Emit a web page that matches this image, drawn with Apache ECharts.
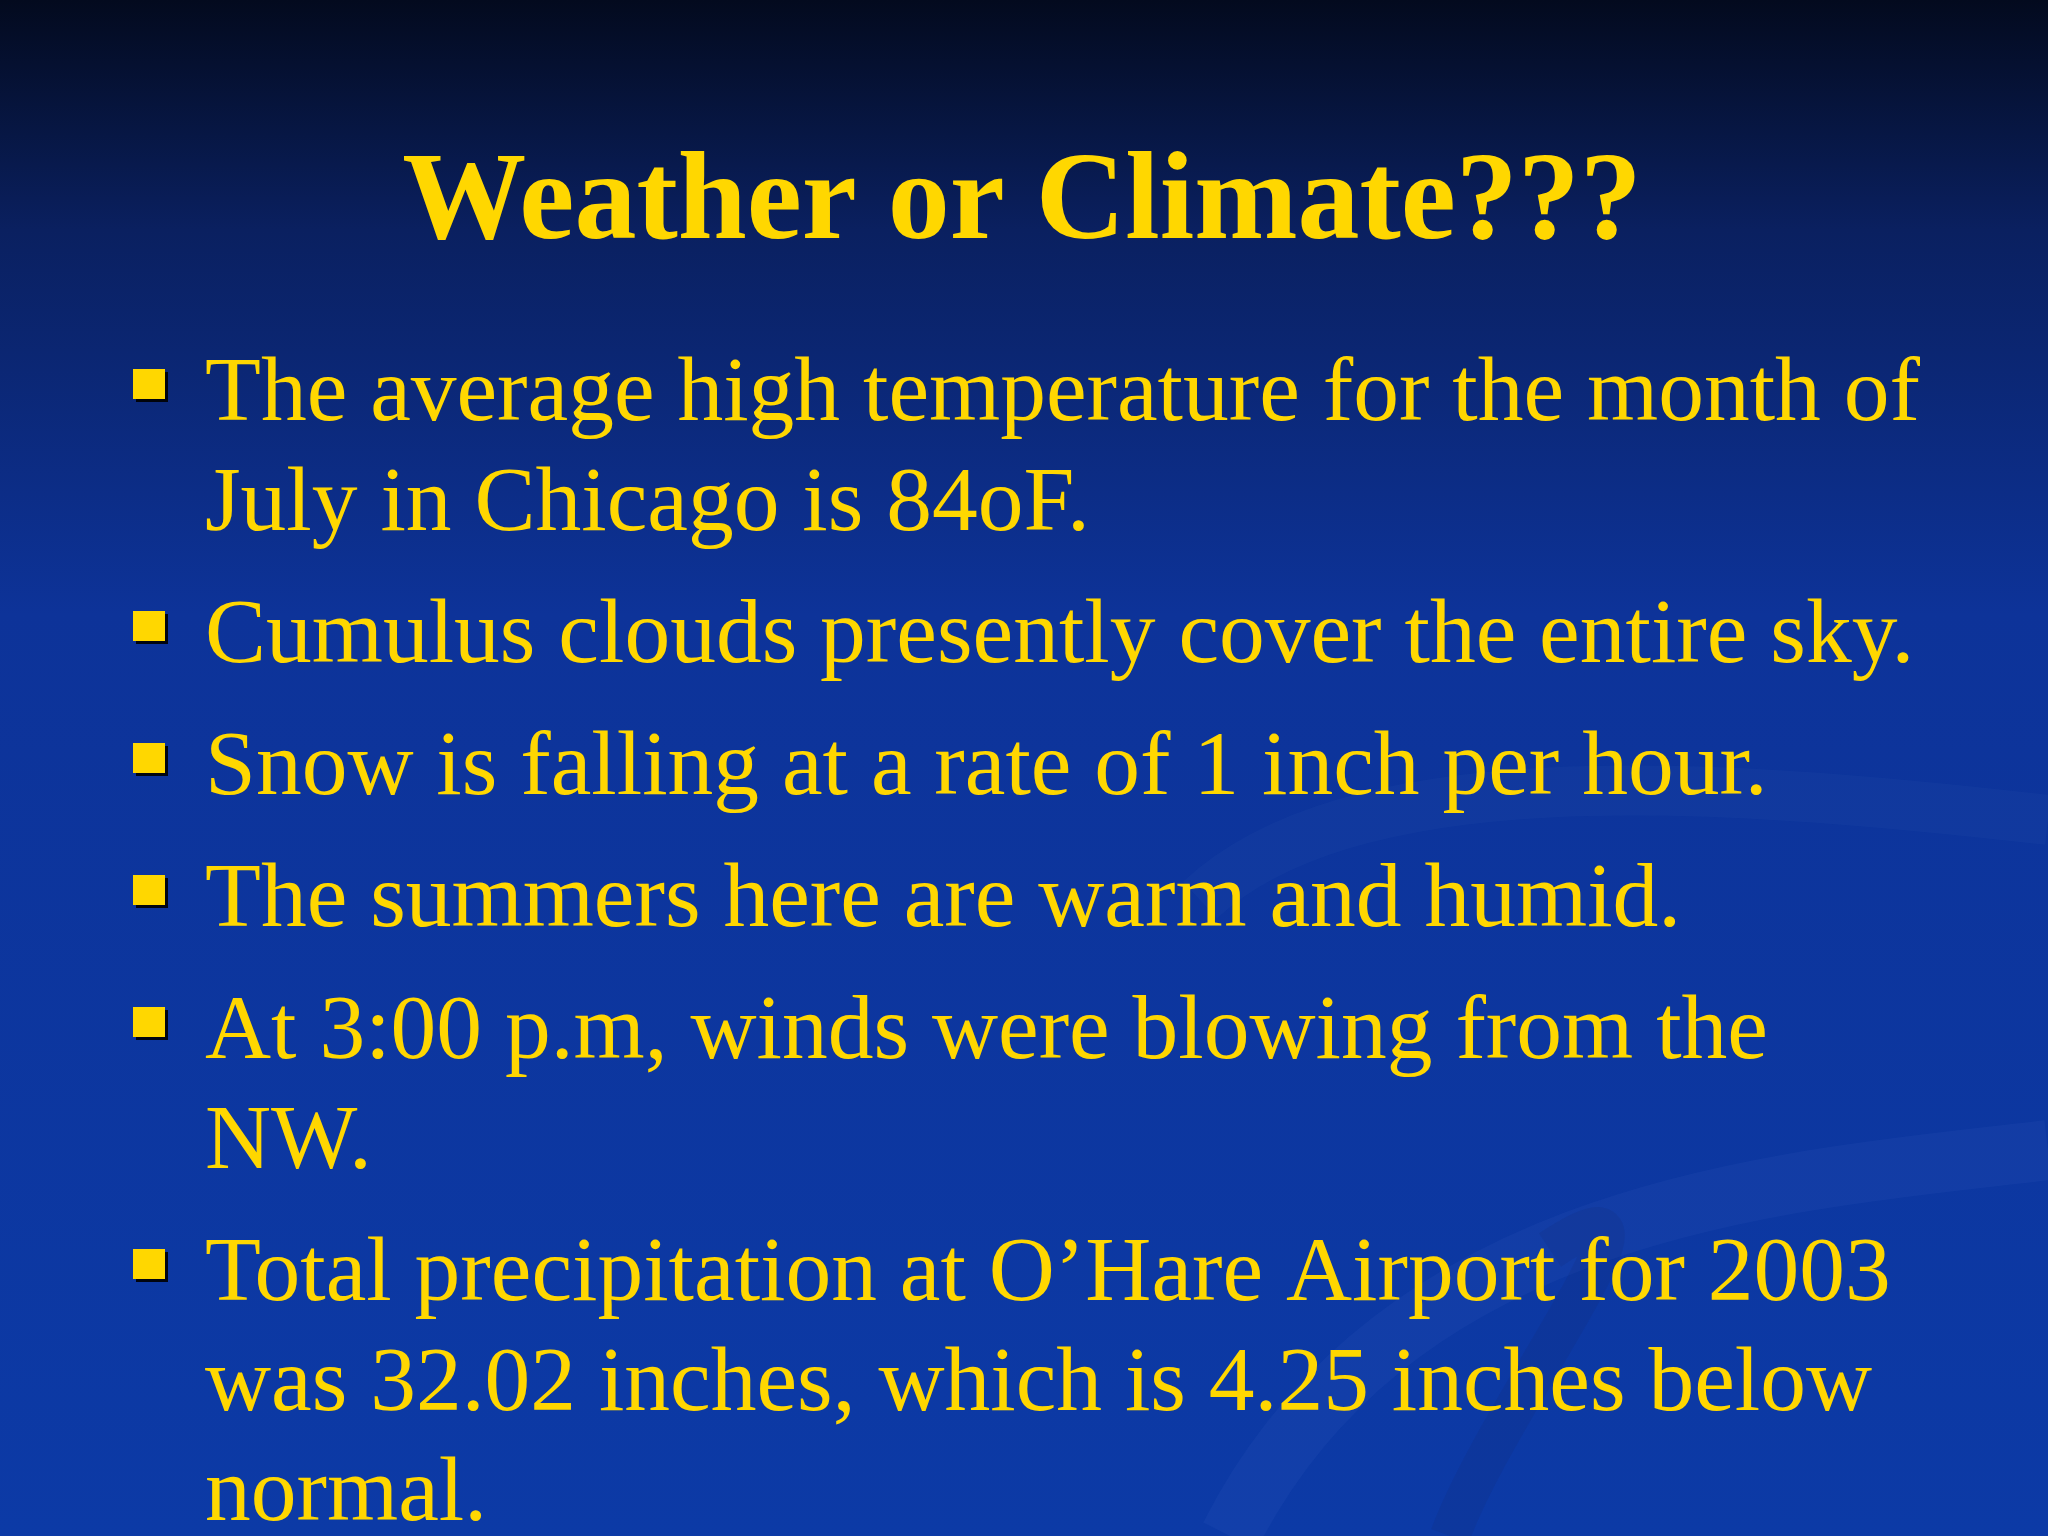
<!DOCTYPE html>
<html><head><meta charset="utf-8">
<script src="https://cdn.jsdelivr.net/npm/echarts@6/dist/echarts.min.js"></script>
<style>html,body{margin:0;padding:0;background:#0a2a8a}#c{width:2048px;height:1536px}</style>
</head><body><div id="c"></div>
<script>
const titleText = "Weather or Climate???";
const bulletLines = [
  ["The average high temperature for the month of", "July in Chicago is 84oF."],
  ["Cumulus clouds presently cover the entire sky."],
  ["Snow is falling at a rate of 1 inch per hour."],
  ["The summers here are warm and humid."],
  ["At 3:00 p.m, winds were blowing from the", "NW."],
  ["Total precipitation at O\u2019Hare Airport for 2003", "was 32.02 inches, which is 4.25 inches below", "normal."]
];

const chart = echarts.init(document.getElementById('c'));
const FS = 91.5, LH = 110, GAP = 22, X0 = 205;
const yellow = '#ffd700';
const els = [];
els.push({type:'rect', shape:{x:0,y:0,width:2048,height:1536}, z:0,
  style:{fill:new echarts.graphic.LinearGradient(0,0,0,1,[
    {offset:0,color:'#030a1e'},{offset:0.15,color:'#0a2060'},{offset:0.4,color:'#0d3399'},{offset:1,color:'#0c3aa6'}])}});
els.push({type:'bezierCurve', z:1, shape:{x1:1230,y1:1536,x2:2048,y2:1150,cpx1:1400,cpy1:1200,cpx2:1800,cpy2:1180},
  style:{stroke:'rgba(120,160,230,0.06)',lineWidth:60,fill:null}});
els.push({type:'bezierCurve', z:1, shape:{x1:1200,y1:900,x2:2048,y2:820,cpx1:1350,cpy1:760,cpx2:1700,cpy2:780},
  style:{stroke:'rgba(90,130,210,0.06)',lineWidth:50,fill:null}});
els.push({type:'bezierCurve', z:1, shape:{x1:1550,y1:1250,x2:1450,y2:1536,cpx1:1700,cpy1:1150,cpx2:1500,cpy2:1400},
  style:{stroke:'rgba(20,40,110,0.15)',lineWidth:40,fill:null}});

const shadow = {shadowColor:'rgba(0,0,0,0.95)', shadowOffsetX:4, shadowOffsetY:4, shadowBlur:0.01};
els.push({type:'text', z:5, x:1022, y:206, style:Object.assign({text:titleText, fill:yellow,
  font:'bold 124px "Liberation Serif"', align:'center', verticalAlign:'middle'}, shadow)});

let base = 426;
bulletLines.forEach((lines, i) => {
  els.push({type:'rect', z:5, shape:{x:133, y:base-57, width:32, height:30},
    style:{fill:yellow, shadowColor:'rgba(0,0,0,0.9)', shadowOffsetX:3, shadowOffsetY:3, shadowBlur:0.01}});
  lines.forEach((ln, j) => {
    els.push({type:'text', z:5, x:X0, y:base + j*LH - 0.33*FS, style:Object.assign({text:ln, fill:yellow,
      font:FS+'px "Liberation Serif"', align:'left', verticalAlign:'middle'}, shadow)});
  });
  base += lines.length*LH + GAP;
});
chart.setOption({graphic:{elements:els}});
</script></body></html>
